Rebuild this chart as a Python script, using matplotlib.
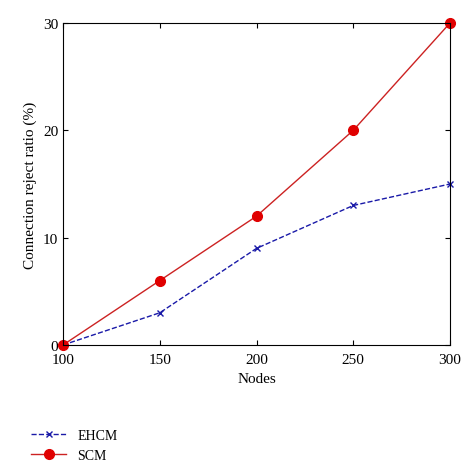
import matplotlib
matplotlib.use("Agg")
import matplotlib.pyplot as plt

nodes = [100, 150, 200, 250, 300]
ehcm = [0, 3, 9, 13, 15]
scm = [0, 6, 12, 20, 30]

plt.rcParams['font.family'] = ['Liberation Serif']
fig = plt.figure(figsize=(4.74, 4.64), dpi=100)
ax = fig.add_axes([63/474, 1-346/464, 387/474, 322/464])
l1, = ax.plot(nodes, ehcm, color='#1a1aa8', ls='--', marker='x', ms=5, lw=1, label='EHCM', clip_on=False)
l2, = ax.plot(nodes, scm, color='#cc2222', ls='-', marker='o', ms=7, mfc='#e00000', mec='#e00000', lw=1, label='SCM', clip_on=False)
ax.set_xlim(100, 300)
ax.set_ylim(0, 30)
ax.set_xticks(nodes)
ax.set_yticks([0, 10, 20, 30])
ax.tick_params(direction='in', labelsize=11, top=True, right=True)
ax.tick_params(axis='x', pad=6)
ax.set_xlabel('Nodes', fontsize=11)
ax.set_ylabel('Connection reject ratio (%)', fontsize=11)
fig.legend(handles=[l1, l2], loc='lower left', bbox_to_anchor=(0.04, -0.025), frameon=False, fontsize=10, handlelength=2.5)
fig.savefig('out.png', dpi=100)
